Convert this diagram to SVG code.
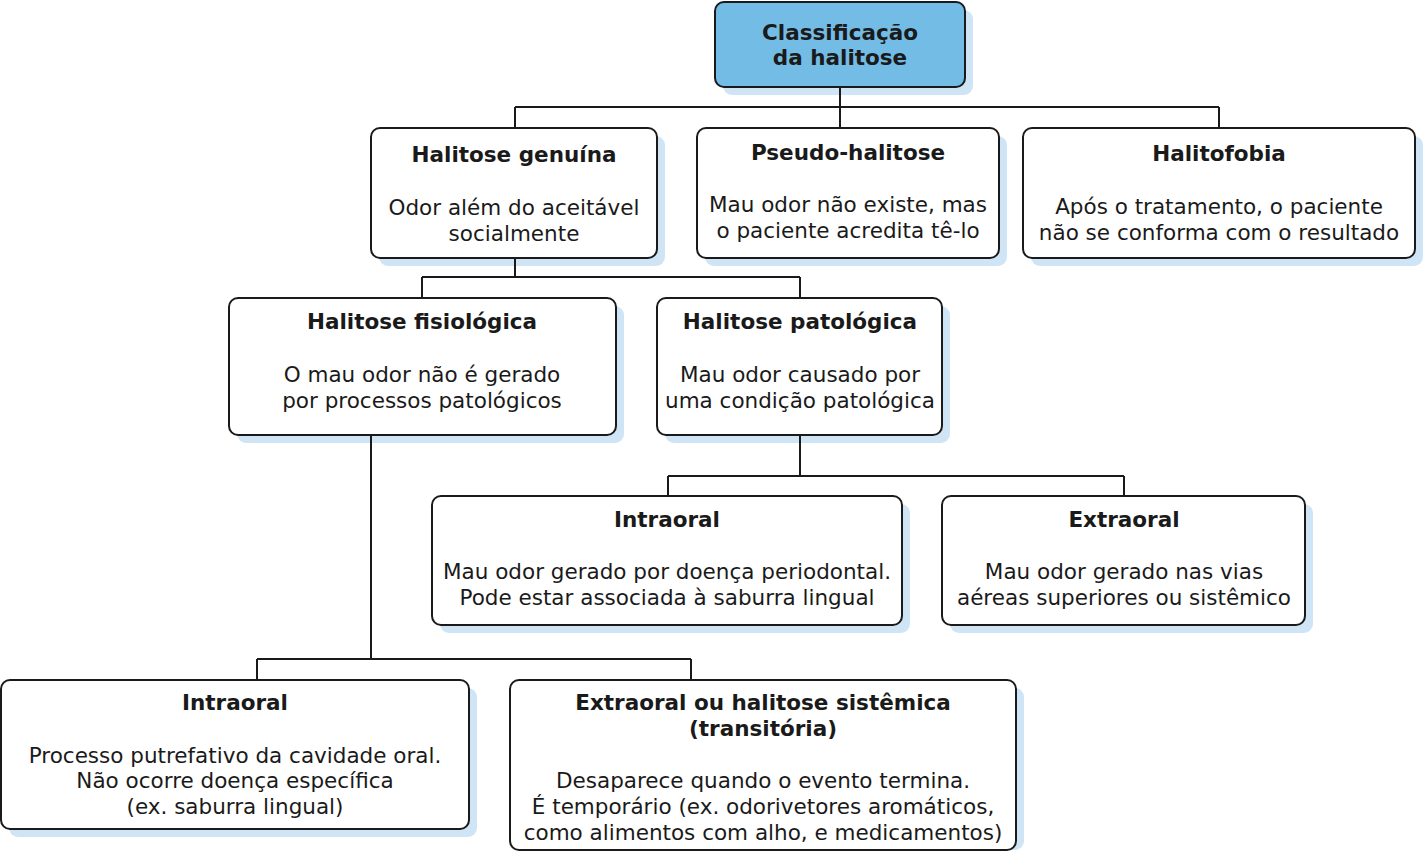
<svg xmlns="http://www.w3.org/2000/svg" width="1423" height="857" viewBox="0 0 1423 857">
<style>
.box{fill:#ffffff;stroke:#1a1a1a;stroke-width:2}
.root{fill:#72bce5;stroke:#1a1a1a;stroke-width:2}
.sh{fill:#cfe5f6}
.t{font-family:"DejaVu Sans",Verdana,sans-serif;font-size:21.5px;fill:#1a1a1a;text-anchor:middle}
.b{font-weight:bold}
.c{fill:none;stroke:#1a1a1a;stroke-width:2}
</style>
<rect width="1423" height="857" fill="#ffffff"/>
<g id="n-root">
<rect class="sh" x="723" y="10" width="250" height="85" rx="9"/>
<rect class="root" x="715" y="2" width="250" height="85" rx="9"/>
<text class="t b" x="840" y="40">Classificação</text>
<text class="t b" x="840" y="65">da halitose</text>
</g>
<g id="n-genuina">
<rect class="sh" x="379" y="136" width="286" height="130" rx="9"/>
<rect class="box" x="371" y="128" width="286" height="130" rx="9"/>
<text class="t b" x="514" y="162">Halitose genuína</text>
<text class="t" x="514" y="215">Odor além do aceitável</text>
<text class="t" x="514" y="241">socialmente</text>
</g>
<g id="n-pseudo">
<rect class="sh" x="705" y="136" width="302" height="130" rx="9"/>
<rect class="box" x="697" y="128" width="302" height="130" rx="9"/>
<text class="t b" x="848" y="160">Pseudo-halitose</text>
<text class="t" x="848" y="212">Mau odor não existe, mas</text>
<text class="t" x="848" y="238">o paciente acredita tê-lo</text>
</g>
<g id="n-fobia">
<rect class="sh" x="1031" y="136" width="392" height="130" rx="9"/>
<rect class="box" x="1023" y="128" width="392" height="130" rx="9"/>
<text class="t b" x="1219" y="161">Halitofobia</text>
<text class="t" x="1219" y="214">Após o tratamento, o paciente</text>
<text class="t" x="1219" y="240">não se conforma com o resultado</text>
</g>
<g id="n-fisiologica">
<rect class="sh" x="237" y="306" width="387" height="137" rx="9"/>
<rect class="box" x="229" y="298" width="387" height="137" rx="9"/>
<text class="t b" x="422" y="329">Halitose fisiológica</text>
<text class="t" x="422" y="382">O mau odor não é gerado</text>
<text class="t" x="422" y="408">por processos patológicos</text>
</g>
<g id="n-patologica">
<rect class="sh" x="665" y="306" width="285" height="137" rx="9"/>
<rect class="box" x="657" y="298" width="285" height="137" rx="9"/>
<text class="t b" x="800" y="329">Halitose patológica</text>
<text class="t" x="800" y="382">Mau odor causado por</text>
<text class="t" x="800" y="408">uma condição patológica</text>
</g>
<g id="n-intra-pat">
<rect class="sh" x="440" y="504" width="470" height="129" rx="9"/>
<rect class="box" x="432" y="496" width="470" height="129" rx="9"/>
<text class="t b" x="667" y="527">Intraoral</text>
<text class="t" x="667" y="579">Mau odor gerado por doença periodontal.</text>
<text class="t" x="667" y="605">Pode estar associada à saburra lingual</text>
</g>
<g id="n-extra-pat">
<rect class="sh" x="950" y="504" width="363" height="129" rx="9"/>
<rect class="box" x="942" y="496" width="363" height="129" rx="9"/>
<text class="t b" x="1124" y="527">Extraoral</text>
<text class="t" x="1124" y="579">Mau odor gerado nas vias</text>
<text class="t" x="1124" y="605">aéreas superiores ou sistêmico</text>
</g>
<g id="n-intra-fis">
<rect class="sh" x="9" y="688" width="468" height="149" rx="9"/>
<rect class="box" x="1" y="680" width="468" height="149" rx="9"/>
<text class="t b" x="235" y="710">Intraoral</text>
<text class="t" x="235" y="763">Processo putrefativo da cavidade oral.</text>
<text class="t" x="235" y="788">Não ocorre doença específica</text>
<text class="t" x="235" y="814">(ex. saburra lingual)</text>
</g>
<g id="n-extra-fis">
<rect class="sh" x="518" y="688" width="506" height="162" rx="9"/>
<rect class="box" x="510" y="680" width="506" height="170" rx="9"/>
<text class="t b" x="763" y="710">Extraoral ou halitose sistêmica</text>
<text class="t b" x="763" y="736">(transitória)</text>
<text class="t" x="763" y="788">Desaparece quando o evento termina.</text>
<text class="t" x="763" y="814">É temporário (ex. odorivetores aromáticos,</text>
<text class="t" x="763" y="840">como alimentos com alho, e medicamentos)</text>
</g>
<g id="connectors">
<path class="c" d="M840 88V107M515 107H1219M515 107V127M840 107V127M1219 107V127"/>
<path class="c" d="M515 259V277M422 277H800M422 277V297M800 277V297"/>
<path class="c" d="M800 436V476M668 476H1124M668 476V495M1124 476V495"/>
<path class="c" d="M371 436V659M257 659H691M257 659V679M691 659V679"/>
</g>
</svg>
